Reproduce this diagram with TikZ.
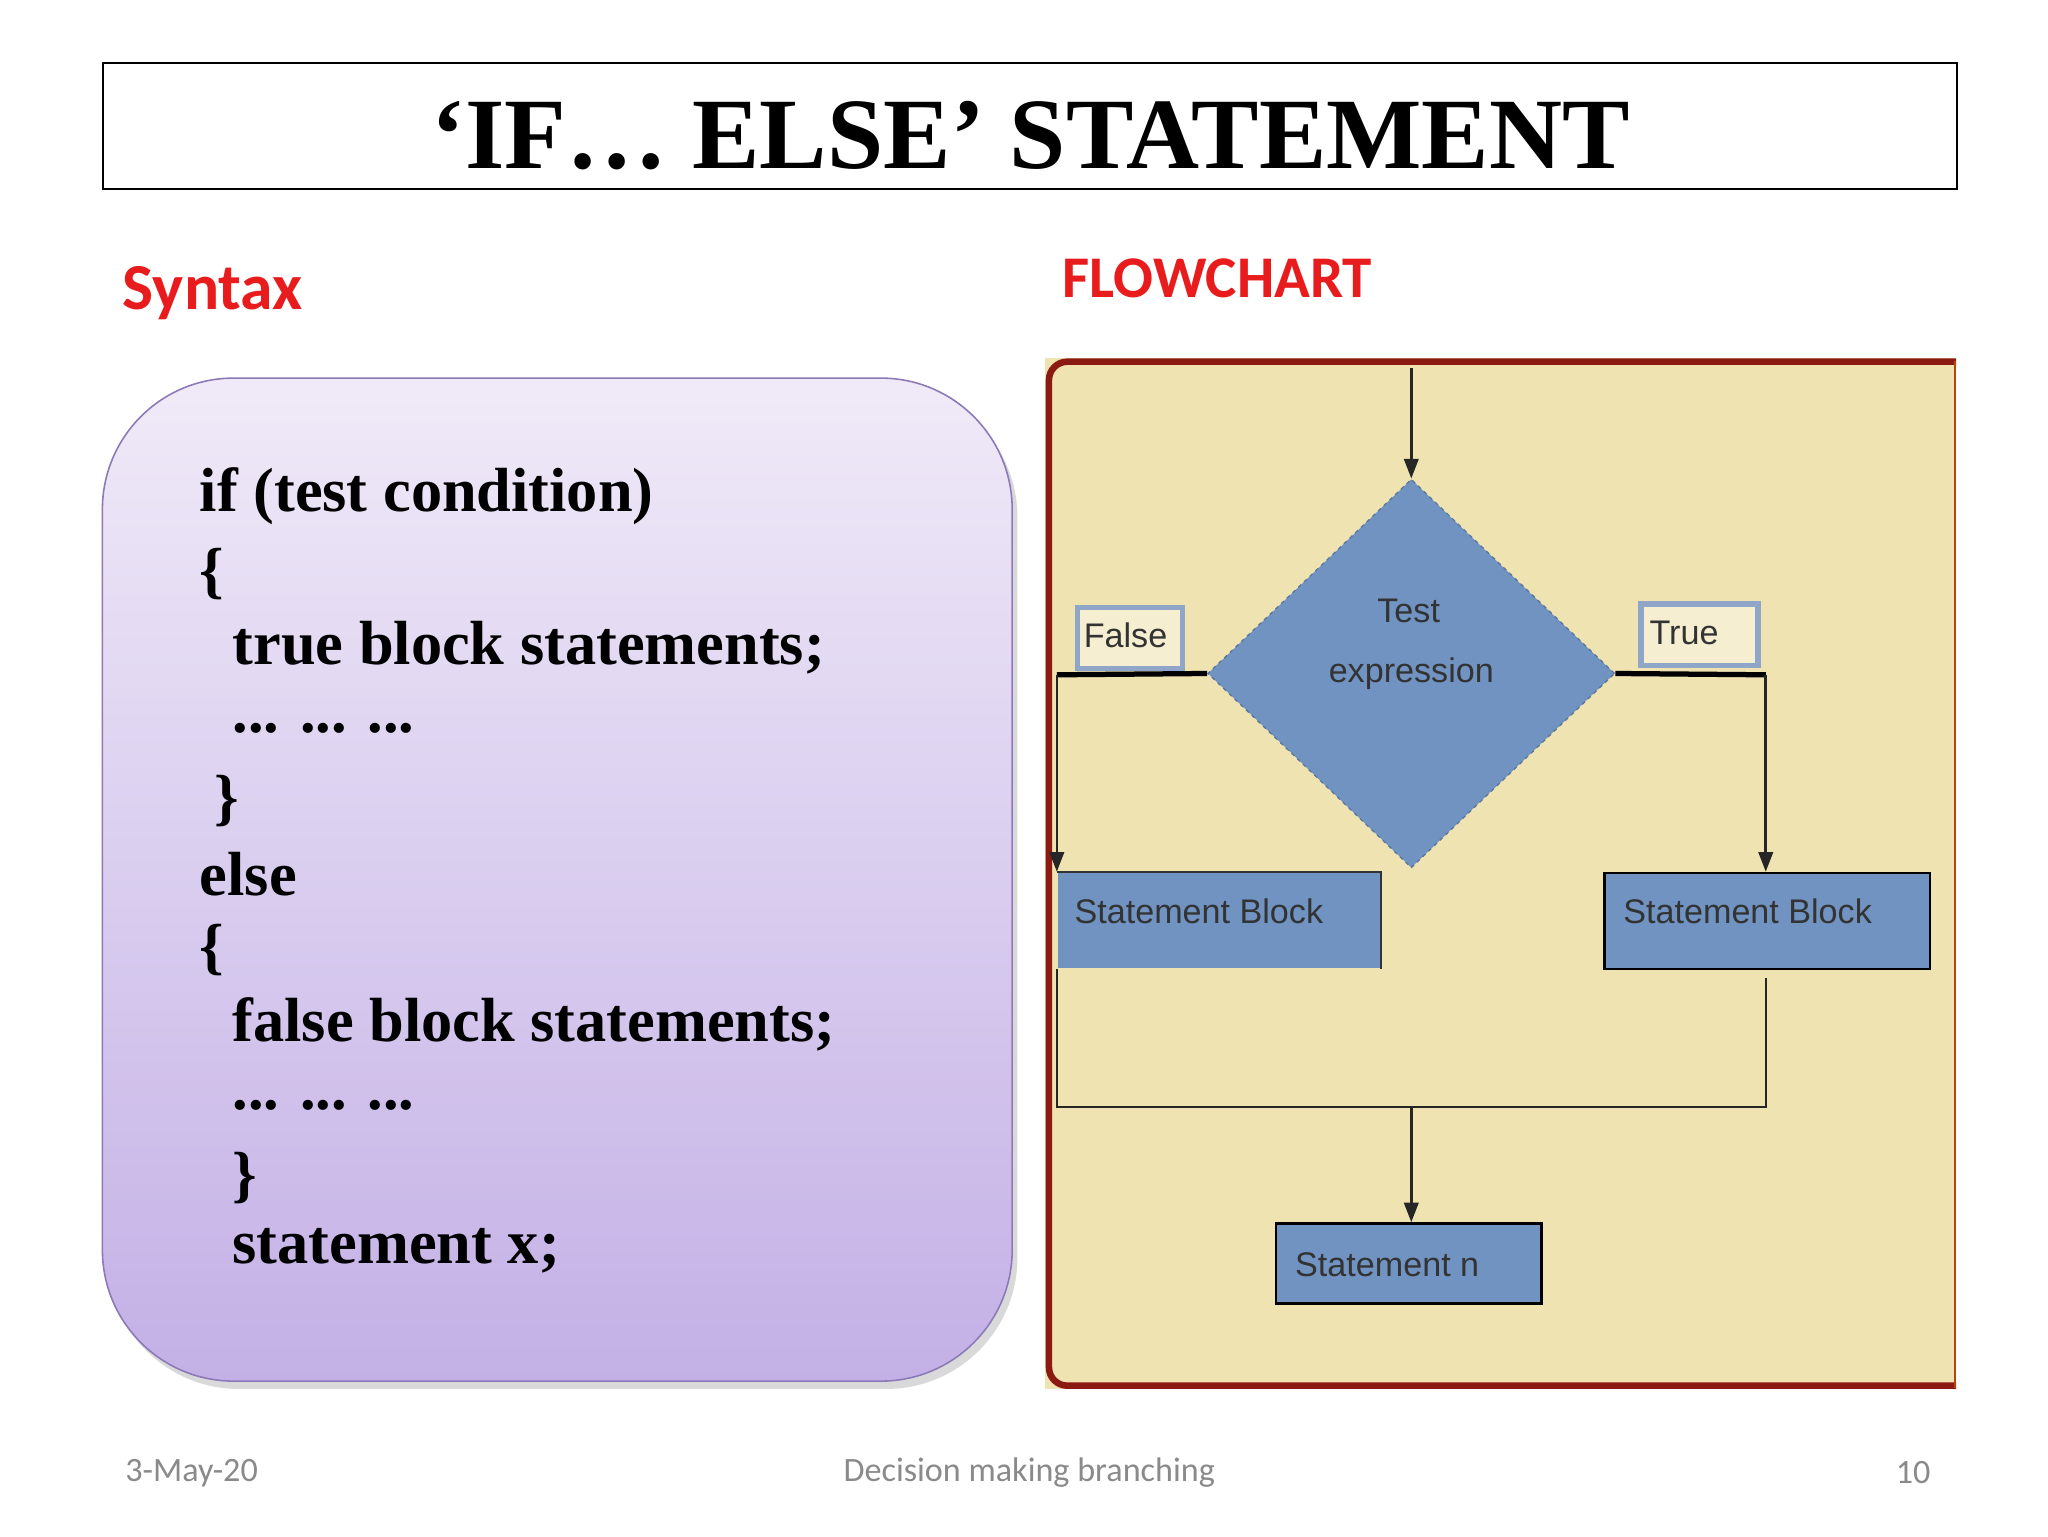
\documentclass[tikz,border=0pt]{standalone}
\usepackage{fontspec}
\setmainfont{Liberation Serif}
\newfontfamily\calib{Carlito}
\newfontfamily\fcsans{Liberation Sans}
\usetikzlibrary{shapes.geometric,arrows.meta}
\definecolor{redtxt}{HTML}{E81C1C}
\definecolor{panel}{HTML}{F0E3B2}
\definecolor{panelb}{HTML}{8B1A12}
\definecolor{fcblue}{HTML}{7093C2}
\definecolor{lblb}{HTML}{8FA6C8}
\definecolor{lavtop}{HTML}{F0EAF8}
\definecolor{lavbot}{HTML}{C3B0E6}
\definecolor{lavb}{HTML}{8C7AB8}
\definecolor{foot}{HTML}{8A8A8A}
\tikzset{
  code/.style={anchor=west,inner sep=0pt,font=\fontsize{47.5}{50}\selectfont\bfseries},
  blk/.style={draw=black,line width=2pt,fill=fcblue,anchor=north west,inner sep=0pt},
  blktxt/.style={anchor=west,font=\fcsans\fontsize{26}{28}\selectfont,text=black!80},
  lbl/.style={draw=lblb,line width=4pt,fill=panel!60!white,inner sep=0pt,anchor=north west},
  fl/.style={line width=2pt,black!85},
  arr/.style={fl,-{Triangle[length=15pt,width=11pt]}},
}
\begin{document}
\begin{tikzpicture}[x=1pt,y=-1pt]
\useasboundingbox (0,0) rectangle (1560,1170);
\fill[white] (0,0) rectangle (1560,1170);
% title
\node[draw=black,line width=1.5pt,minimum width=1412pt,minimum height=96pt,anchor=north west,inner sep=0pt] (title) at (78,47) {};
\node[font=\fontsize{77}{82}\selectfont\bfseries] (tt) at (785,103) {‘IF… ELSE’ STATEMENT};
\node[font=\calib\fontsize{50}{54}\selectfont\bfseries,text=redtxt,anchor=west] (syn) at (90,223) {Syntax};
\node[font=\calib\fontsize{45}{48}\selectfont\bfseries,text=redtxt,anchor=west] (fch) at (806,212) {FLOWCHART};
% syntax box
\fill[black!15,rounded corners=100pt] (82,294) rectangle (775,1058);
\shade[top color=lavtop,bottom color=lavbot,draw=lavb,line width=1.2pt,rounded corners=100pt] (78,288) rectangle (771,1052);
\node[code] (c1) at (152,378) {if (test condition)};
\node[code] (c2) at (152,437) {\{};
\node[code] (c3) at (177,493) {true block statements;};
\node[code] (c4) at (177,555) {... ... ...};
\node[code] (c5) at (163,610) {\}};
\node[code] (c6) at (152,666) {else};
\node[code] (c7) at (152,724) {\{};
\node[code] (c8) at (177,780) {false block statements;};
\node[code] (c9) at (177,842) {... ... ...};
\node[code] (c10) at (177,897) {\}};
\node[code] (c11) at (177,953) {statement x;};
% flowchart panel
\fill[panel] (796,273) rectangle (1490,1058);
\draw[panelb,line width=5pt,rounded corners=14pt] (1490,275.5) -- (799,275.5) -- (799,1055.5) -- (1490,1055.5);
\draw[panelb!60!orange,line width=1.5pt] (1489,275) -- (1489,1057);
\coordinate (top) at (1075,280);
\node[diamond,fill=fcblue,draw=fcblue!80!black,dashed,line width=1pt,minimum width=310pt,minimum height=296pt,inner sep=0pt] (d) at (1075,513) {};
\node[font=\fcsans\fontsize{26}{28}\selectfont,text=black!80] (t1) at (1073,465) {Test};
\node[font=\fcsans\fontsize{26}{28}\selectfont,text=black!80] (t2) at (1075,513) {expression};
\draw[arr] (top) -- (d.north);
\node[lbl,minimum width=80pt,minimum height=46pt] (fb) at (819,461) {};
\node[blktxt] (ft) at (822,484) {False};
\node[lbl,minimum width=89pt,minimum height=47pt] (tb) at (1248,458) {};
\node[blktxt] (tt2) at (1253,482) {True};
\node[blk,minimum width=245pt,minimum height=72pt,draw=none] (sl) at (805,664) {};
\draw[black!80,line width=1.5pt] (sl.north west) -- (sl.north east) -- (sl.south east);
\node[blktxt] (slt) at (815,694) {Statement Block};
\node[blk,minimum width=248pt,minimum height=73pt] (sr) at (1221,664) {};
\node[blktxt] (srt) at (1233,694) {Statement Block};
\node[blk,minimum width=202pt,minimum height=61pt] (sn) at (971,931) {};
\node[blktxt] (snt) at (983,963) {Statement n};
\draw[line width=4pt,black] (d.west) -- (805,514);
\draw[arr] (805,514) -- (sl.north west);
\draw[line width=4pt,black] (d.east) -- (1345,514);
\draw[arr] (1345,514) -- (1345,664);
\coordinate (m) at (1075,843);
\draw[fl,line width=1.5pt] (sl.south west) -- (805,843) -- (1345,843) -- (1345,745);
\draw[arr] (m) -- (sn.north -| m);
% footer
\node[font=\calib\fontsize{26}{28}\selectfont,text=foot,anchor=west] (f1) at (92,1122) {3-May-20};
\node[font=\calib\fontsize{26}{28}\selectfont,text=foot] (f2) at (784,1122) {Decision making branching};
\node[font=\calib\fontsize{26}{28}\selectfont,text=foot,anchor=east] (f3) at (1474,1122) {10};
\end{tikzpicture}
\end{document}
